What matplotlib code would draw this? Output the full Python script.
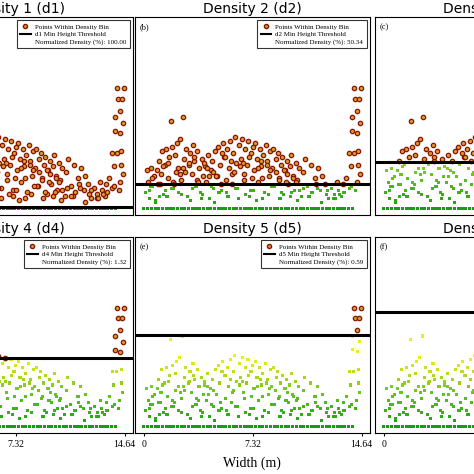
import numpy as np
import matplotlib.pyplot as plt
from matplotlib.colors import LinearSegmentedColormap
from matplotlib.lines import Line2D

# ----------------------------------------------------
# Point cloud (width in m, height in m)
# ----------------------------------------------------
cloud_x = [0.1, 0.2, 0.3, 0.4, 0.5, 0.6, 0.7, 0.8, 0.9, 1.0, 1.1, 1.2, 1.3, 1.4, 1.5, 1.6, 1.7, 1.8, 1.9, 2.0,
           2.1, 2.2, 2.3, 2.4, 2.5, 2.6, 2.7, 2.8, 2.9, 3.0, 3.1, 3.2, 3.3, 3.4, 3.5, 3.6, 3.7, 3.8, 3.9, 4.0,
           4.1, 4.2, 4.3, 4.4, 4.5, 4.6, 4.7, 4.8, 4.9, 5.0, 5.1, 5.2, 5.3, 5.4, 5.5, 5.6, 5.7, 5.8, 5.9,
           6.0, 6.1, 6.2, 6.3, 6.4, 6.5, 6.6, 6.7, 6.8, 6.9, 7.0, 7.1, 7.2, 7.3, 7.4, 7.5, 7.6, 7.7, 7.8, 7.9,
           8.0, 8.1, 8.2, 8.3, 8.4, 8.5, 8.6, 8.7, 8.8, 8.9, 9.0, 9.1, 9.2, 9.3, 9.4, 9.5, 9.6, 9.7, 9.8, 9.9,
           10.0, 10.1, 10.2, 10.3, 10.4, 10.6, 10.7, 10.8, 11.0, 11.2, 11.3, 11.5, 11.7, 11.9, 12.0, 12.2, 12.4,
           12.6, 12.8, 13.0, 13.1, 13.3, 13.4,
           13.6, 13.8, 13.9, 14.0, 14.1, 14.0, 14.1, 14.2, 14.3, 14.4, 14.3, 14.5, 14.35, 14.45, 14.6, 14.4, 13.8, 14.5,
           0.35, 0.75, 1.15, 1.55, 1.95, 2.35, 2.75, 3.15, 3.55, 3.95, 4.35, 4.75, 5.15, 5.55, 5.95, 6.35, 6.75,
           7.15, 7.55, 7.95, 8.35, 8.75, 9.15, 9.55, 9.95, 10.35, 10.75, 11.15, 11.55, 11.95, 12.35, 12.75, 13.15,
           0.55, 1.25, 1.85, 2.45, 3.05, 3.65, 4.25, 4.85, 5.45, 6.05, 6.65, 7.25, 7.85, 8.45, 9.05, 9.65, 10.25,
           0.95, 1.65, 2.15, 2.65, 3.35, 4.05, 4.65, 5.25, 5.85, 6.45, 7.05, 7.65, 8.25, 8.85, 9.45, 10.05,
           0.45, 1.05, 1.45, 2.05, 2.55, 3.25, 3.85, 4.55, 5.05, 5.65, 6.15, 6.85, 7.35, 7.95, 8.55, 9.25, 9.85,
           10.45, 11.05, 11.65, 12.25, 12.85, 13.45, 13.95, 14.25]
cloud_h = [0.8, 1.9, 1.3, 0.5, 2.0, 1.1, 1.6, 0.3, 1.9, 2.4, 1.2, 2.9, 0.7, 2.2, 3.0, 1.5, 2.6, 4.4, 3.1, 1.0,
           2.7, 3.3, 2.0, 3.5, 1.4, 4.6, 2.5, 3.0, 0.6, 2.2, 2.8, 1.7, 3.2, 2.4, 1.1, 2.9, 2.0, 0.8, 2.5, 1.6,
           2.1, 1.3, 2.7, 0.5, 1.9, 2.4, 1.0, 2.9, 1.6, 3.1, 2.2, 0.9, 3.3, 2.6, 1.4, 3.0, 2.0, 3.4, 1.2,
           2.8, 3.6, 2.3, 1.0, 3.2, 2.5, 3.5, 1.7, 3.0, 2.2, 3.4, 0.6, 2.8, 3.1, 1.9, 3.3, 2.5, 1.3, 3.0, 2.1,
           2.7, 0.8, 3.2, 2.4, 1.6, 2.9, 2.0, 3.0, 1.1, 2.5, 2.8, 1.5, 2.2, 2.6, 0.7, 1.9, 2.4, 1.2, 2.1, 2.7,
           1.6, 0.9, 2.3, 1.4, 2.0, 0.6, 1.8, 2.5, 1.1, 2.2, 0.8, 1.5, 2.0, 0.9, 1.6, 1.2, 0.5,
           1.0, 0.7, 1.3, 0.9, 0.6, 1.2,
           1.5, 2.8, 2.1, 3.9, 2.8, 4.6, 6.05, 5.5, 1.3, 2.9, 4.9, 4.3, 3.8, 5.5, 6.05, 2.2, 1.0, 1.7,
           0.9, 0.4, 1.7, 0.6, 1.3, 0.8, 1.8, 0.4, 1.4, 0.7, 1.6, 0.3, 1.2, 0.8, 1.7, 0.5, 1.4,
           0.9, 0.4, 1.5, 0.7, 1.1, 0.5, 1.3, 0.8, 0.4, 1.0, 0.6, 1.2, 0.3, 0.9, 0.5, 0.7,
           1.5, 2.1, 1.0, 1.7, 2.3, 1.3, 2.0, 1.6, 2.6, 1.8, 2.3, 1.5, 2.4, 1.9, 1.4, 1.7, 1.3,
           1.2, 2.3, 1.8, 2.0, 2.6, 2.3, 1.8, 2.8, 2.4, 2.1, 2.6, 2.0, 2.2, 1.8, 1.9, 1.5,
           1.1, 0.6, 0.9, 1.2, 0.7, 1.0, 0.5, 1.1, 0.8, 0.6, 1.0, 0.7, 0.9, 0.5, 1.1, 0.8, 0.6,
           0.9, 0.6, 1.0, 0.7, 0.5, 0.8, 1.1, 0.9]
ground_x = [0.0, 0.25, 0.5, 0.75, 1.0, 1.25, 1.5, 1.75, 2.0, 2.25, 2.5, 2.75, 3.0, 3.25, 3.5, 3.75, 4.0,
            4.25, 4.5, 4.75, 5.0, 5.25, 5.5, 5.75, 6.0, 6.25, 6.5, 6.75, 7.0, 7.25, 7.5, 7.75, 8.0, 8.25,
            8.5, 8.75, 9.0, 9.25, 9.5, 9.75, 10.0, 10.25, 10.5, 10.75, 11.0, 11.25, 11.5, 11.75, 12.0,
            12.25, 12.5, 12.75, 13.0, 13.25, 13.5, 13.75, 14.0]

titles = ["Density 1 (d1)", "Density 2 (d2)", "Density 3 (d3)",
          "Density 4 (d4)", "Density 5 (d5)", "Density 6 (d6)"]
letters = ["(a)", "(b)", "(c)", "(d)", "(e)", "(f)"]
thresholds = [0.05, 1.2, 2.35, 3.5, 4.65, 5.8]
norm_density = ["100.00", "50.34", "14.52", "1.32", "0.59", "0.20"]

xs = np.array(cloud_x + ground_x)
hs = np.array(cloud_h + [0.0] * len(ground_x))

cmap = LinearSegmentedColormap.from_list("gy", ["#12a012", "#6cc41a", "#e8ec20"])
serif = "Liberation Serif"

fig = plt.figure(figsize=(4.74, 4.74), dpi=100)
W, H = 474, 474
lefts = [-102, 135, 375]
rows = [(17, 215), (237, 433)]

for i in range(6):
    r, c = divmod(i, 3)
    top, bot = rows[r]
    ax = fig.add_axes([lefts[c] / W, 1 - bot / H, 235 / W, (bot - top) / H])
    thr = thresholds[i]
    below = hs < thr
    ax.scatter(xs[below], hs[below], c=cmap(np.clip(hs[below] / 3.4, 0, 1)),
               s=5, marker="s", linewidths=0)
    ax.scatter(xs[~below], hs[~below], facecolor="#d79a2a", edgecolor="#8b1500",
               s=10, linewidths=0.9, zorder=3)
    ax.axhline(thr, color="black", lw=2.2, zorder=4)
    ax.set_xlim(-0.6, 15.2)
    ax.set_ylim(-0.35, 9.65)
    ax.set_yticks([])
    if r == 1:
        ax.set_xticks([0, 7.32, 14.64])
        ax.set_xticklabels(["0", "7.32", "14.64"], family=serif, fontsize=7)
        ax.tick_params(axis="x", length=2, pad=3)
    else:
        ax.set_xticks([])
    ax.set_title(titles[i], fontsize=10, pad=3)
    ax.text(0.02, 0.97, letters[i], transform=ax.transAxes, family=serif,
            fontsize=6, va="top")
    handles = [
        Line2D([], [], marker="o", ls="", mfc="#d79a2a", mec="#8b1500", ms=3),
        Line2D([], [], color="black", lw=1.5),
        Line2D([], [], ls="", marker=""),
    ]
    labels = ["Points Within Density Bin", f"d{i + 1} Min Height Threshold",
              f"Normalized Density (%): {norm_density[i]}"]
    leg = ax.legend(handles, labels, loc="upper right", prop={"family": serif, "size": 5},
                    fancybox=False, edgecolor="black", handlelength=1.5,
                    borderpad=0.5, labelspacing=0.2, handletextpad=0.6)
    leg.get_frame().set_linewidth(0.8)

fig.text(252 / W, 1 - 463 / H, "Width (m)", family=serif, fontsize=10, ha="center", va="center")

fig.savefig("out.png", dpi=100)
